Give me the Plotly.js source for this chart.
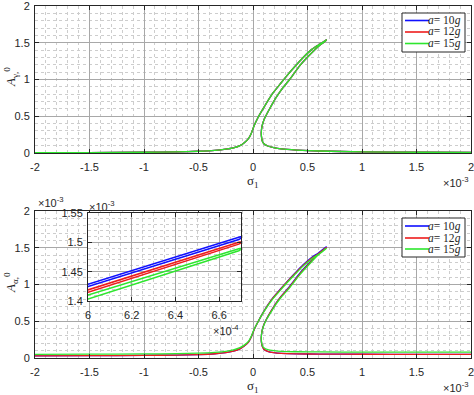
<!DOCTYPE html>
<html><head><meta charset="utf-8">
<script src="https://cdn.plot.ly/plotly-3.0.1.min.js"></script>
<style>html,body{margin:0;padding:0;background:#fff}#plot{width:474px;height:395px}</style>
</head><body><div id="plot"></div>
<script>
// detuning sigma_1 (x 10^-3), path: upper branch -> fold -> middle branch -> lower branch
const sigma = [-2, -1.5, -1, -0.7, -0.5, -0.35, -0.25, -0.18, -0.12, -0.08, -0.04, -0.015, 0.01, 0.045, 0.1, 0.18, 0.25, 0.31, 0.38, 0.46, 0.54, 0.6, 0.669, 0.672,
  0.669, 0.6, 0.51, 0.43, 0.335, 0.255, 0.205, 0.163, 0.13, 0.1, 0.082, 0.076, 0.078, 0.086, 0.1, 0.135, 0.19, 0.26, 0.4, 0.61, 1.0, 1.5, 2.0];
// top panel A_gamma (all three excitation levels coincide)
const topAmp = [0.004, 0.006, 0.010, 0.016, 0.024, 0.036, 0.052, 0.07, 0.10, 0.14, 0.2, 0.27, 0.37, 0.48, 0.62, 0.81, 0.94, 1.05, 1.17, 1.3, 1.41, 1.47, 1.535, 1.54,
  1.53, 1.45, 1.32, 1.19, 1.0, 0.85, 0.74, 0.63, 0.54, 0.45, 0.36, 0.28, 0.22, 0.16, 0.125, 0.095, 0.072, 0.055, 0.04, 0.027, 0.016, 0.01, 0.007];
// bottom panel A_alpha (x 10^-3)
const botBlue = [0.03, 0.032, 0.035, 0.04, 0.047, 0.058, 0.073, 0.094, 0.125, 0.162, 0.22, 0.29, 0.385, 0.49, 0.638, 0.815, 0.935, 1.036, 1.147, 1.268, 1.37, 1.4286, 1.5086, 1.512,
  1.5047, 1.4245, 1.285, 1.155, 0.975, 0.835, 0.733, 0.632, 0.547, 0.456, 0.36, 0.28, 0.21, 0.155, 0.12, 0.09, 0.072, 0.062, 0.056, 0.053, 0.051, 0.05, 0.05];
const botRed = [0.03, 0.032, 0.035, 0.04, 0.047, 0.058, 0.073, 0.094, 0.125, 0.162, 0.22, 0.29, 0.385, 0.49, 0.635, 0.81, 0.93, 1.03, 1.14, 1.26, 1.36, 1.4189, 1.5, 1.503,
  1.497, 1.4149, 1.275, 1.145, 0.965, 0.83, 0.73, 0.63, 0.545, 0.455, 0.36, 0.28, 0.21, 0.155, 0.12, 0.09, 0.072, 0.062, 0.056, 0.053, 0.051, 0.05, 0.05];
const botGreen = [0.05, 0.052, 0.055, 0.06, 0.066, 0.076, 0.09, 0.11, 0.14, 0.175, 0.23, 0.3, 0.39, 0.49, 0.63, 0.8, 0.92, 1.02, 1.13, 1.25, 1.35, 1.4103, 1.489, 1.492,
  1.4857, 1.4034, 1.265, 1.135, 0.955, 0.82, 0.72, 0.62, 0.54, 0.45, 0.36, 0.28, 0.22, 0.17, 0.14, 0.115, 0.1, 0.09, 0.085, 0.082, 0.08, 0.08, 0.08];
const seriesNames = ['<i>a</i>= 10<i>g</i>', '<i>a</i>= 12<i>g</i>', '<i>a</i>= 15<i>g</i>'];
const colors = ['#1010ff', '#ee1c1c', '#2ee62e'];
const mainXTicks = [-2, -1.5, -1, -0.5, 0, 0.5, 1, 1.5, 2];
const mainXText = ['-2', '-1.5', '-1', '-0.5', '0', '0.5', '1', '1.5', '2'];
const mainYTicks = [0, 0.5, 1, 1.5, 2];
const mainYText = ['0', '0.5', '1', '1.5', '2'];
const insetXTicks = [0.6, 0.62, 0.64, 0.66];
const insetXText = ['6', '6.2', '6.4', '6.6'];
const insetYTicks = [1.4, 1.45, 1.5, 1.55];
const insetYText = ['1.4', '1.45', '1.5', '1.55'];

const W = 474, H = 395;
const px = v => v / W, py = v => 1 - v / H;
const bottomSeries = [botBlue, botRed, botGreen];
const traces = [];
for (let i = 0; i < 3; i++) {
  traces.push({x: sigma, y: topAmp, xaxis: 'x', yaxis: 'y', mode: 'lines', name: seriesNames[i], showlegend: false,
    line: {color: colors[i], width: 1.3, shape: 'spline', smoothing: 0.6}});
}
for (let i = 0; i < 3; i++) {
  traces.push({x: sigma, y: bottomSeries[i], xaxis: 'x2', yaxis: 'y2', mode: 'lines', name: seriesNames[i], showlegend: false,
    line: {color: colors[i], width: 1.3, shape: 'spline', smoothing: 0.6}});
}
for (let i = 0; i < 3; i++) {
  traces.push({x: sigma, y: bottomSeries[i], xaxis: 'x3', yaxis: 'y3', mode: 'lines', name: seriesNames[i], showlegend: false,
    line: {color: colors[i], width: 1.5}});
}

const ink = '#262626';
const tickFont = {family: 'Liberation Sans, Arial, sans-serif', size: 11, color: ink};
function ax(extra) {
  return Object.assign({
    showline: true, mirror: 'ticks', linecolor: ink, linewidth: 1,
    ticks: 'inside', ticklen: 4, tickcolor: ink, tickwidth: 1,
    showgrid: true, gridcolor: '#a8a8a8', gridwidth: 1, zeroline: false,
    tickfont: tickFont, tickmode: 'array', fixedrange: true, ticklabeloverflow: 'allow'
  }, extra);
}
const minorMain = {dtick: 0.1, showgrid: true, gridcolor: '#cdcdcd', griddash: 'dot', gridwidth: 1, ticks: ''};
const layout = {
  width: W, height: H, margin: {l: 0, r: 0, t: 0, b: 0},
  paper_bgcolor: '#fff', plot_bgcolor: '#fff', showlegend: false,
  xaxis: ax({domain: [px(35), px(471)], range: [-2, 2], tickvals: mainXTicks, ticktext: mainXText, anchor: 'y', minor: minorMain, ticklabelstandoff: 4}),
  yaxis: ax({domain: [py(153), py(6)], range: [0, 2], tickvals: mainYTicks, ticktext: mainYText, anchor: 'x', minor: minorMain, ticklabelstandoff: 2}),
  xaxis2: ax({domain: [px(35), px(471)], range: [-2, 2], tickvals: mainXTicks, ticktext: mainXText, anchor: 'y2', minor: minorMain, ticklabelstandoff: 4}),
  yaxis2: ax({domain: [py(358), py(211)], range: [0, 2], tickvals: mainYTicks, ticktext: mainYText, anchor: 'x2', minor: minorMain, ticklabelstandoff: 2}),
  xaxis3: ax({domain: [px(88), px(241)], range: [0.6, 0.67], tickvals: insetXTicks, ticktext: insetXText, anchor: 'y3',
    minor: {dtick: 0.005, showgrid: true, gridcolor: '#cdcdcd', griddash: 'dot', ticks: ''}, ticklabelstandoff: 4}),
  yaxis3: ax({domain: [py(301), py(213)], range: [1.4, 1.55], tickvals: insetYTicks, ticktext: insetYText, anchor: 'x3',
    minor: {dtick: 0.01, showgrid: true, gridcolor: '#cdcdcd', griddash: 'dot', ticks: ''}, ticklabelstandoff: 2}),
  annotations: [],
  shapes: []
};
const A = layout.annotations, S = layout.shapes;
function note(text, x, y, opts) {
  A.push(Object.assign({text: text, xref: 'paper', yref: 'paper', x: px(x), y: py(y), showarrow: false,
    xanchor: 'center', yanchor: 'middle', font: {family: 'Liberation Sans, Arial, sans-serif', size: 11, color: ink}}, opts || {}));
}
const serif = {family: 'Liberation Serif, Times New Roman, serif', size: 13, color: ink};
// axis titles
note('σ<sub>1</sub>', 253, 181, {font: serif});
note('σ<sub>1</sub>', 253, 386, {font: serif});
note('<i>A</i><sub>γ,</sub><sup>0</sup>', 11, 77, {font: serif, textangle: -90});
note('<i>A</i><sub>α,</sub><sup>0</sup>', 11, 283, {font: serif, textangle: -90});
// exponent labels
note('×10<sup>-3</sup>', 471, 182, {xanchor: 'right'});
note('×10<sup>-3</sup>', 471, 387, {xanchor: 'right'});
note('×10<sup>-3</sup>', 36, 202, {xanchor: 'left'});
note('×10<sup>-3</sup>', 87, 206, {xanchor: 'left'});
note('×10<sup>-4</sup>', 241, 330, {xanchor: 'right'});
// legends
function legend(top, rows) {
  S.push({type: 'rect', xref: 'paper', yref: 'paper', x0: px(402), x1: px(465), y0: py(top), y1: py(top + 39),
    line: {color: ink, width: 1}, fillcolor: '#fff', layer: 'above'});
  for (let i = 0; i < 3; i++) {
    S.push({type: 'line', xref: 'paper', yref: 'paper', x0: px(405), x1: px(429), y0: py(rows[i]), y1: py(rows[i]),
      line: {color: colors[i], width: 1.6}, layer: 'above'});
    note(seriesNames[i], 463, rows[i], {xanchor: 'right', font: {family: 'Liberation Serif, Times New Roman, serif', size: 11.5, color: ink}});
  }
}
legend(13, [20.5, 32, 43.5]);
legend(218, [226, 238, 249]);

Plotly.newPlot('plot', traces, layout, {staticPlot: true, displayModeBar: false});
</script>
</body></html>
